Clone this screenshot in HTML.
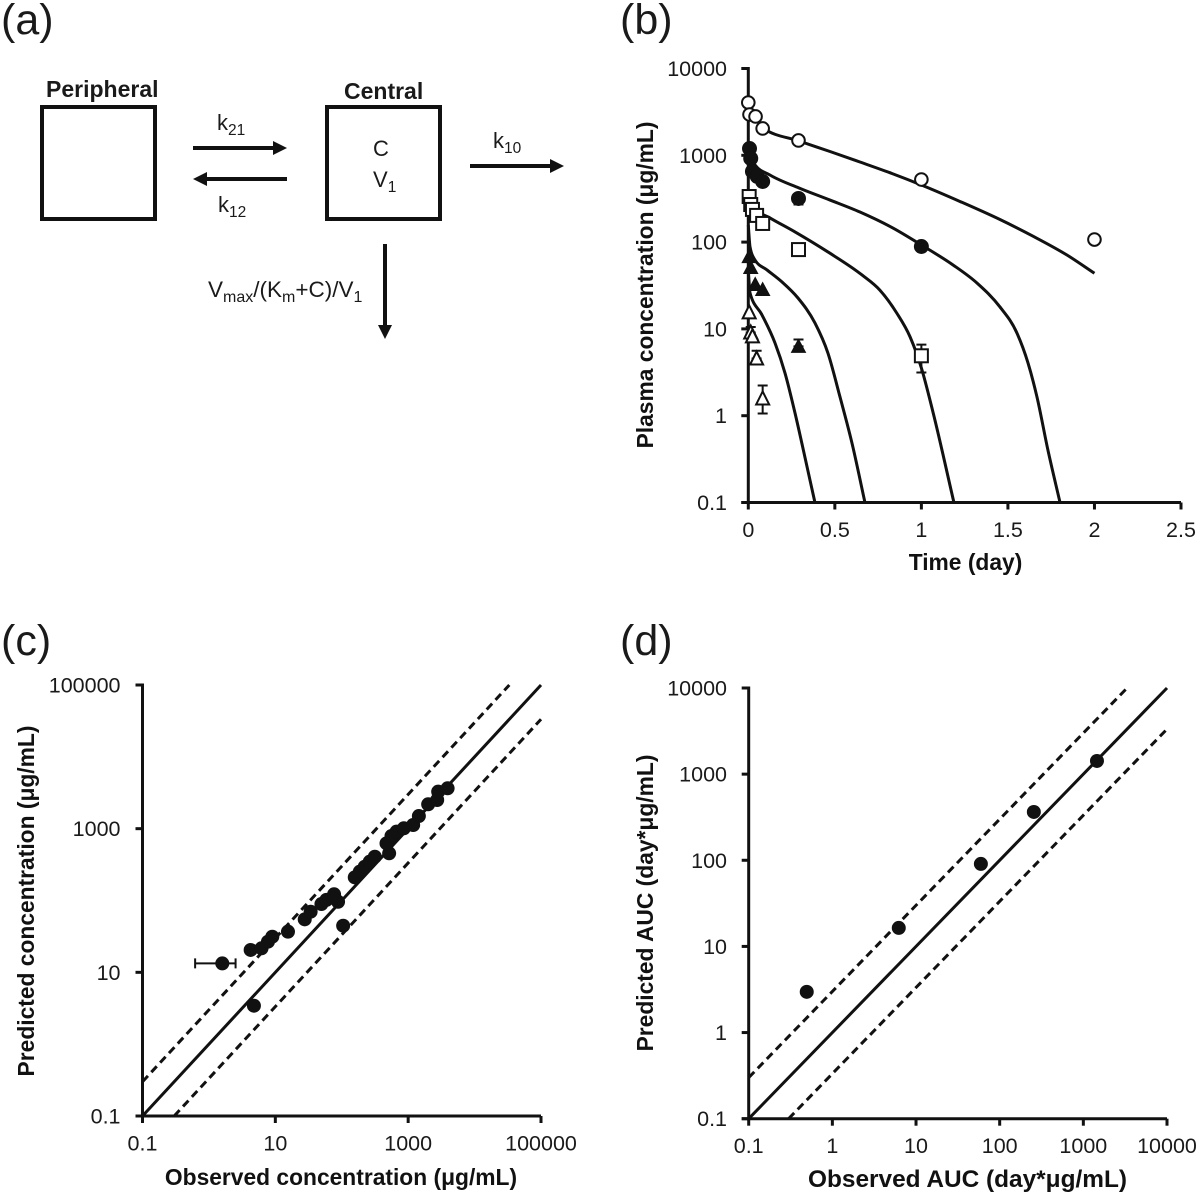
<!DOCTYPE html>
<html lang="en">
<head>
<meta charset="utf-8">
<title>Pharmacokinetic model and plasma concentration charts</title>
<style>
html,body{margin:0;padding:0;background:#fff;}
svg{display:block;}
text{font-family:"Liberation Sans",sans-serif;fill:#1a1a1a;}
.tick{font-size:21.5px;}
.title{font-size:22.8px;font-weight:bold;fill:#111;}
.panel{font-size:43px;}
.diagram{font-size:22px;}
.sub{font-size:15.5px;}
</style>
</head>
<body>
<svg id="figure" xmlns="http://www.w3.org/2000/svg" width="1200" height="1197" viewBox="0 0 1200 1197">
  <rect width="1200" height="1197" fill="#fff"/>

  <text class="panel" x="1" y="34">(a)</text>
  <text class="panel" x="620" y="34">(b)</text>
  <text class="panel" x="1" y="655">(c)</text>
  <text class="panel" x="620" y="655">(d)</text>

  <g id="compartment-diagram">
    <rect x="42" y="107" width="113" height="112" fill="none" stroke="#111" stroke-width="4"/>
    <rect x="327" y="107" width="113" height="112" fill="none" stroke="#111" stroke-width="4"/>
    <text x="46" y="97" style="font-size:23px;font-weight:bold">Peripheral</text>
    <text x="344" y="99" style="font-size:23px;font-weight:bold">Central</text>
    <text class="diagram" x="373" y="156">C</text>
    <text class="diagram" x="373" y="187">V<tspan class="sub" dy="5">1</tspan></text>
    <text class="diagram" x="217" y="130">k<tspan class="sub" dy="5">21</tspan></text>
    <text class="diagram" x="218" y="212">k<tspan class="sub" dy="5">12</tspan></text>
    <text class="diagram" x="493" y="148">k<tspan class="sub" dy="5">10</tspan></text>
    <text x="208" y="297" style="font-size:22.5px">V<tspan style="font-size:16px" dy="5">max</tspan><tspan dy="-5">/(K</tspan><tspan style="font-size:16px" dy="5">m</tspan><tspan dy="-5">+C)/V</tspan><tspan style="font-size:16px" dy="5">1</tspan></text>
    <path d="M193 148H274" stroke="#111" stroke-width="4" fill="none"/>
    <path d="M287 148L273 141V155Z" fill="#111"/>
    <path d="M287 179H206" stroke="#111" stroke-width="4" fill="none"/>
    <path d="M193 179L207 172V186Z" fill="#111"/>
    <path d="M470 166H551" stroke="#111" stroke-width="4" fill="none"/>
    <path d="M564 166L550 159V173Z" fill="#111"/>
    <path d="M385 244V326" stroke="#111" stroke-width="4" fill="none"/>
    <path d="M385 339L378 325H392Z" fill="#111"/>
  </g>

  <g id="chart-b"></g>
  <g id="chart-c"></g>
  <g id="chart-d"></g>

  <text class="title" transform="translate(653,285) rotate(-90)" text-anchor="middle">Plasma concentration (μg/mL)</text>
  <text class="title" x="965.500" y="570" text-anchor="middle">Time (day)</text>
  <text class="title" transform="translate(34,901) rotate(-90)" text-anchor="middle">Predicted concentration (μg/mL)</text>
  <text class="title" x="341" y="1185" text-anchor="middle">Observed concentration (μg/mL)</text>
  <text class="title" transform="translate(653,903) rotate(-90)" text-anchor="middle">Predicted AUC (day*μg/mL)</text>
  <text class="title" x="967.500" y="1187" text-anchor="middle" style="font-size:24.4px">Observed AUC (day*μg/mL)</text>
</svg>

<script>
// Panel (b) tick labels
var bXTicks = [0, 0.5, 1, 1.5, 2, 2.5];
var bYTicks = [10000, 1000, 100, 10, 1, 0.1];

// Panel (b) model curves: times (day) and concentrations (ug/mL)
var curve1Time = [0, 0.085, 0.293, 0.472, 0.645, 0.83, 1, 1.223, 1.454, 1.645, 1.841, 2];
var curve1Conc = [3900, 2063, 1461, 1106, 837, 617, 455, 294, 182, 117, 71, 43.7];
var curve2Time = [0, 0.016, 0.039, 0.125, 0.293, 0.472, 0.645, 0.836, 1, 1.183, 1.321, 1.454, 1.552, 1.616, 1.668, 1.731, 1.801];
var curve2Conc = [1300, 1007, 773, 593, 420, 305, 222, 145, 92.6, 54.5, 33.8, 17.9, 8.97, 4.05, 1.64, 0.403, 0.1];
var curve3Time = [0, 0.021, 0.05, 0.125, 0.27, 0.46, 0.657, 0.76, 0.858, 0.935, 1, 1.067, 1.188];
var curve3Conc = [398, 305, 234, 190, 131, 77, 41.8, 28, 15.2, 8.07, 3.55, 1.1, 0.1];
var curve4Time = [0, 0.01, 0.039, 0.108, 0.195, 0.287, 0.385, 0.46, 0.53, 0.599, 0.674];
var curve4Conc = [157, 88, 62, 47.8, 34.7, 22.7, 11.7, 5.27, 1.64, 0.484, 0.1];
var curve5Time = [0, 0.01, 0.079, 0.154, 0.212, 0.27, 0.327, 0.385];
var curve5Conc = [47.8, 25.9, 14.5, 6.9, 3.1, 1.07, 0.334, 0.1];

// Panel (b) observations
var openCircleTime = [0, 0.007, 0.042, 0.083, 0.29, 1, 2];
var openCircleConc = [4055, 2950, 2800, 2037, 1482, 526, 107];
var filledCircleTime = [0.007, 0.014, 0.024, 0.052, 0.083, 0.29, 1];
var filledCircleConc = [1197, 919, 651, 570, 499, 318, 89];
var filledCircleLow = [null, null, null, null, null, 271, null];
var squareTime = [0.005, 0.014, 0.024, 0.048, 0.083, 0.29, 1];
var squareConc = [335, 271, 238, 203, 164, 82, 4.9];
var squareHigh = [null, null, null, null, null, null, 6.6];
var squareLow = [null, null, null, null, null, null, 3.15];
var filledTriangleTime = [0.005, 0.014, 0.04, 0.083, 0.29];
var filledTriangleConc = [68, 51, 32.5, 28.4, 6.3];
var filledTriangleHigh = [null, null, null, null, 7.55];
var openTriangleTime = [0.005, 0.014, 0.024, 0.048, 0.083];
var openTriangleConc = [15.5, 9.1, 8.2, 4.56, 1.58];
var openTriangleHigh = [null, 10.5, null, 5.6, 2.23];
var openTriangleLow = [null, null, null, null, 1.06];

// Panel (c)
var cTicks = [0.1, 10, 1000, 100000];
var cObserved = [1.59, 4.76, 105, 4.25, 6.2, 7.74, 9, 15.5, 27.7, 34, 49.4, 58.8, 76.6, 88, 157, 187, 222, 264, 315, 517, 472, 561, 668, 861, 1189, 1449, 2000, 2735, 2831, 3926];
var cPredicted = [13.3, 3.43, 44.6, 20.5, 21.6, 26.7, 31.3, 36.8, 54.7, 69.8, 89.3, 102, 122, 96, 210, 252, 295, 347, 407, 454, 625, 791, 908, 1012, 1125, 1500, 2183, 2506, 3273, 3648];
var cErrorLow = [0.62];
var cErrorHigh = [2.52];

// Panel (d)
var dTicks = [0.1, 1, 10, 100, 1000, 10000];
var dObserved = [0.494, 6.22, 59.6, 256, 1455];
var dPredicted = [2.97, 16.4, 90.8, 364, 1423];

// Reference line endpoints (unity line and 3-fold bounds)
var cUnityX = [0.1, 100000];
var cUpperX = [0.1, 33333];
var cLowerX = [0.3, 100000];
var dUnityX = [0.1, 10000];
var dUpperX = [0.1, 3333];
var dLowerX = [0.3, 10000];
var foldFactor = 3;

var NS = 'http://www.w3.org/2000/svg';
var INK = '#111';

function make(parent, tag, attrs) {
  var el = document.createElementNS(NS, tag);
  for (var k in attrs) { el.setAttribute(k, attrs[k]); }
  parent.appendChild(el);
  return el;
}

function logScale(d0, d1, r0, r1) {
  return function (v) {
    return r0 + (Math.log10(v) - Math.log10(d0)) / (Math.log10(d1) - Math.log10(d0)) * (r1 - r0);
  };
}
function linScale(d0, d1, r0, r1) {
  return function (v) { return r0 + (v - d0) / (d1 - d0) * (r1 - r0); };
}

function drawAxes(g, prefix, x, y, xTicks, yTicks, x0, y0, xEnd, yEnd, yLabelRight) {
  var yAxis = make(g, 'line', {x1: x0, x2: x0, y1: yEnd - 1.5, y2: y0 + 1.5, stroke: INK, 'stroke-width': 3});
  
  
  var xAxis = make(g, 'line', {x1: x0 - 7, x2: xEnd, y1: y0, y2: y0, stroke: INK, 'stroke-width': 3});
  
  
  xTicks.forEach(function (t) {
    var px = x(t);
    var tk = make(g, 'line', {x1: px, x2: px, y1: y0, y2: y0 + 7, stroke: INK, 'stroke-width': 3});
    
    
    var lb = make(g, 'text', {x: px, y: y0 + 34.5, 'text-anchor': 'middle', 'class': 'tick'});
    
    
    lb.textContent = String(t);
  });
  yTicks.forEach(function (t) {
    var py = y(t);
    var tk = make(g, 'line', {x1: x0 - 7, x2: x0, y1: py, y2: py, stroke: INK, 'stroke-width': 3});
    
    
    var lb = make(g, 'text', {x: yLabelRight, y: py + 7.5, 'text-anchor': 'end', 'class': 'tick'});
    
    
    lb.textContent = String(t);
  });
}

// Monotone cubic through pixel points (x strictly increasing), with slope limiter
function smoothPath(pts) {
  var n = pts.length, h = [], s = [], m = [], i;
  for (i = 0; i < n - 1; i++) {
    h[i] = pts[i + 1][0] - pts[i][0];
    s[i] = (pts[i + 1][1] - pts[i][1]) / h[i];
  }
  m[0] = s[0];
  m[n - 1] = s[n - 2];
  for (i = 1; i < n - 1; i++) {
    if (s[i - 1] * s[i] <= 0) {
      m[i] = 0;
    } else {
      var p = (h[i] * s[i - 1] + h[i - 1] * s[i]) / (h[i] + h[i - 1]);
      var sign = s[i] > 0 ? 1 : -1;
      m[i] = sign * Math.min(2 * Math.abs(s[i - 1]), 2 * Math.abs(s[i]), Math.abs(p));
    }
  }
  var d = 'M' + pts[0][0].toFixed(2) + ' ' + pts[0][1].toFixed(2);
  for (i = 0; i < n - 1; i++) {
    var dx = h[i] / 3;
    d += 'C' + (pts[i][0] + dx).toFixed(2) + ' ' + (pts[i][1] + m[i] * dx).toFixed(2) + ' ' +
      (pts[i + 1][0] - dx).toFixed(2) + ' ' + (pts[i + 1][1] - m[i + 1] * dx).toFixed(2) + ' ' +
      pts[i + 1][0].toFixed(2) + ' ' + pts[i + 1][1].toFixed(2);
  }
  return d;
}

function verticalError(g, name, px, yHigh, yLow) {
  var el = make(g, 'path', {
    d: 'M' + px + ' ' + yHigh + 'V' + yLow + 'M' + (px - 5) + ' ' + yHigh + 'H' + (px + 5) + 'M' + (px - 5) + ' ' + yLow + 'H' + (px + 5),
    stroke: INK, 'stroke-width': 2, fill: 'none'
  });
  
  
}

/* ---------- Panel (b) ---------- */
(function () {
  var g = document.getElementById('chart-b');
  var x = linScale(0, 2.5, 748.3, 1181);
  var y = logScale(0.1, 10000, 502.5, 68.5);

  var curveTimes = [curve1Time, curve2Time, curve3Time, curve4Time, curve5Time];
  var curveConcs = [curve1Conc, curve2Conc, curve3Conc, curve4Conc, curve5Conc];
  curveTimes.forEach(function (times, i) {
    var pts = times.map(function (t, j) { return [x(t), y(curveConcs[i][j])]; });
    var p = make(g, 'path', {d: smoothPath(pts), fill: 'none', stroke: INK, 'stroke-width': 3});
    
    
  });

  drawAxes(g, 'b', x, y, bXTicks, bYTicks, 748.3, 502.5, 1181, 68.5, 727);

  openTriangleTime.forEach(function (t, i) {
    var px = x(t), py = y(openTriangleConc[i]);
    if (openTriangleHigh[i] !== null) {
      verticalError(g, 'open-triangle-error-bar', px, y(openTriangleHigh[i]), openTriangleLow[i] !== null ? y(openTriangleLow[i]) : py);
    }
    var m = make(g, 'path', {d: 'M' + px + ' ' + (py - 7) + 'L' + (px + 6.5) + ' ' + (py + 6) + 'H' + (px - 6.5) + 'Z', fill: '#fff', stroke: INK, 'stroke-width': 2});
    
    
  });

  filledTriangleTime.forEach(function (t, i) {
    var px = x(t), py = y(filledTriangleConc[i]);
    if (filledTriangleHigh[i] !== null) {
      verticalError(g, 'filled-triangle-error-bar', px, y(filledTriangleHigh[i]), py);
    }
    var m = make(g, 'path', {d: 'M' + px + ' ' + (py - 7) + 'L' + (px + 7) + ' ' + (py + 6) + 'H' + (px - 7) + 'Z', fill: INK, stroke: INK, 'stroke-width': 1});
    
    
  });

  squareTime.forEach(function (t, i) {
    var px = x(t), py = y(squareConc[i]);
    if (squareHigh[i] !== null) {
      verticalError(g, 'square-error-bar', px, y(squareHigh[i]), y(squareLow[i]));
    }
    var m = make(g, 'rect', {x: px - 6.5, y: py - 6.5, width: 13, height: 13, fill: '#fff', stroke: INK, 'stroke-width': 2});
    
    
  });

  filledCircleTime.forEach(function (t, i) {
    var px = x(t), py = y(filledCircleConc[i]);
    if (filledCircleLow[i] !== null) {
      verticalError(g, 'filled-circle-error-bar', px, py, y(filledCircleLow[i]));
    }
    var m = make(g, 'circle', {cx: px, cy: py, r: 7.5, fill: INK});
    
    
  });

  openCircleTime.forEach(function (t, i) {
    var m = make(g, 'circle', {cx: x(t), cy: y(openCircleConc[i]), r: 6.3, fill: '#fff', stroke: INK, 'stroke-width': 2});
    
    
  });
})();

function referenceLines(g, prefix, x, y, unityX, upperX, lowerX) {
  var u = make(g, 'line', {x1: x(unityX[0]), y1: y(unityX[0]), x2: x(unityX[1]), y2: y(unityX[1]), stroke: INK, 'stroke-width': 3});
  
  
  var a = make(g, 'line', {x1: x(upperX[0]), y1: y(upperX[0] * foldFactor), x2: x(upperX[1]), y2: y(upperX[1] * foldFactor), stroke: INK, 'stroke-width': 3, 'stroke-dasharray': '8 5'});
  
  
  var b = make(g, 'line', {x1: x(lowerX[0]), y1: y(lowerX[0] / foldFactor), x2: x(lowerX[1]), y2: y(lowerX[1] / foldFactor), stroke: INK, 'stroke-width': 3, 'stroke-dasharray': '8 5'});
  
  
}

/* ---------- Panel (c) ---------- */
(function () {
  var g = document.getElementById('chart-c');
  var x = logScale(0.1, 100000, 142.5, 541);
  var y = logScale(0.1, 100000, 1116, 685);
  referenceLines(g, 'c', x, y, cUnityX, cUpperX, cLowerX);
  drawAxes(g, 'c', x, y, cTicks, cTicks, 142.5, 1116, 541, 685, 120.5);
  cObserved.forEach(function (v, i) {
    var px = x(v), py = y(cPredicted[i]);
    if (cErrorLow[i] !== undefined) {
      var xl = x(cErrorLow[i]), xh = x(cErrorHigh[i]);
      var e = make(g, 'path', {d: 'M' + xl + ' ' + py + 'H' + xh + 'M' + xl + ' ' + (py - 5) + 'V' + (py + 5) + 'M' + xh + ' ' + (py - 5) + 'V' + (py + 5), stroke: INK, 'stroke-width': 2, fill: 'none'});
      
      
    }
    var m = make(g, 'circle', {cx: px, cy: py, r: 7, fill: INK});
    
    
  });
})();

/* ---------- Panel (d) ---------- */
(function () {
  var g = document.getElementById('chart-d');
  var x = logScale(0.1, 10000, 748.7, 1167);
  var y = logScale(0.1, 10000, 1118.7, 688);
  referenceLines(g, 'd', x, y, dUnityX, dUpperX, dLowerX);
  drawAxes(g, 'd', x, y, dTicks, dTicks, 748.7, 1118.7, 1167, 688, 727);
  dObserved.forEach(function (v, i) {
    var m = make(g, 'circle', {cx: x(v), cy: y(dPredicted[i]), r: 7, fill: INK});
    
    
  });
})();
</script>
</body>
</html>
